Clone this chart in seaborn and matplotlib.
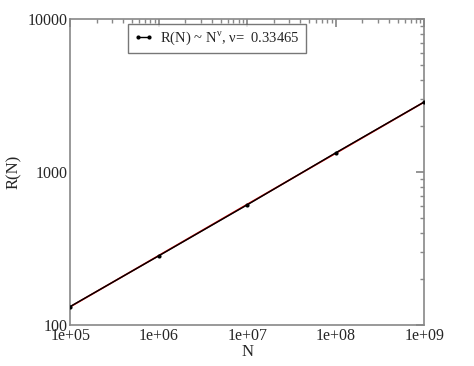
import numpy as np
import matplotlib
matplotlib.use("Agg")
import matplotlib.pyplot as plt
import seaborn as sns
from matplotlib.ticker import LogLocator, FixedLocator, NullFormatter

# data
N = [1e5, 1e6, 1e7, 1e8, 1e9]
R = [132, 283, 610, 1335, 2870]
nu = 0.33465
x_ticks = [1e5, 1e6, 1e7, 1e8, 1e9]
x_labels = ["1e+05", "1e+06", "1e+07", "1e+08", "1e+09"]
y_ticks = [100, 1000, 10000]
y_labels = ["100", "1000", "10000"]

sns.set_theme(style="white")
plt.rcParams['font.family'] = ['Liberation Serif', 'DejaVu Serif']

fig, ax = plt.subplots(figsize=(4.74, 3.66), dpi=100)
fig.subplots_adjust(left=0.148, right=0.895, top=0.948, bottom=0.112)

# power-law fit
logN = np.log10(N)
A = np.mean(np.log10(R) - nu * logN)
fitN = np.array([N[0], N[-1]])
fitR = 10 ** (A + nu * np.log10(fitN))
ax.plot(fitN, fitR, color="#cc0000", lw=1.2, zorder=2)

sns.lineplot(x=N, y=R, ax=ax, color="black", lw=1.0, marker="o", markersize=3,
             markeredgewidth=0, label=r"R(N) ~ N$^\mathregular{ν}$, ν=  0.33465", zorder=3)

ax.set_xscale("log")
ax.set_yscale("log")
ax.set_xlim(1e5, 1e9)
ax.set_ylim(100, 10000)
ax.xaxis.set_major_locator(FixedLocator(x_ticks))
ax.set_xticklabels(x_labels)
ax.yaxis.set_major_locator(FixedLocator(y_ticks))
ax.set_yticklabels(y_labels)
ax.xaxis.set_minor_locator(LogLocator(base=10, subs=np.arange(2, 10)))
ax.yaxis.set_minor_locator(LogLocator(base=10, subs=np.arange(2, 10)))
ax.xaxis.set_minor_formatter(NullFormatter())
ax.yaxis.set_minor_formatter(NullFormatter())

ax.tick_params(which="both", direction="in", top=True, right=True,
               color="#888888", labelsize=11.5, pad=2)
ax.tick_params(which="major", length=6)
ax.tick_params(which="minor", length=3)
for s in ax.spines.values():
    s.set_color("#888888")
    s.set_linewidth(1.2)

ax.set_xlabel("N", fontsize=12, labelpad=0)
ax.set_ylabel("R(N)", fontsize=12, labelpad=4)

leg = ax.legend(loc="upper left", bbox_to_anchor=(0.16, 0.99), fontsize=10.5,
                frameon=True, fancybox=False, handlelength=1.3, borderpad=0.4,
                handletextpad=0.5, borderaxespad=0.1, numpoints=2)
leg.get_frame().set_edgecolor("#555555")
leg.get_frame().set_linewidth(1.0)

fig.savefig("out.png", dpi=100)
